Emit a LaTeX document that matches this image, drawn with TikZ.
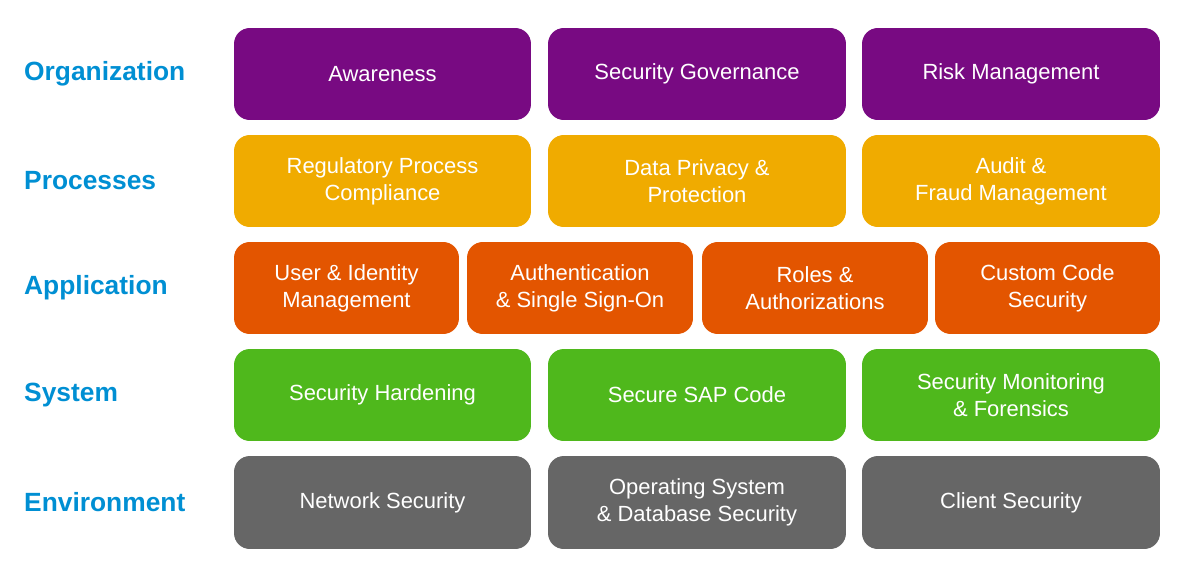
\documentclass[tikz,border=0pt]{standalone}
\usepackage{fontspec}
\setmainfont{Liberation Sans}
\usetikzlibrary{positioning}
\definecolor{orgc}{HTML}{780A82}
\definecolor{proc}{HTML}{F0AB00}
\definecolor{appc}{HTML}{E35500}
\definecolor{sysc}{HTML}{4FB81C}
\definecolor{envc}{HTML}{666666}
\definecolor{labc}{HTML}{008FD3}
\begin{document}
\begin{tikzpicture}[
  x=0.02cm, y=-0.02cm,
  layer/.style={font=\fontsize{15}{17}\selectfont\bfseries, text=labc, anchor=west},
  tile/.style={rounded corners=9pt, text=white, align=center,
    font=\fontsize{12.5}{15.5}\selectfont, minimum height=1.84cm, inner sep=0pt}
]
  \useasboundingbox (0,0) rectangle (1200,578);

  \node[layer] (org) at (18,74) {Organization};
  \node[layer] (pro) at (18,181) {Processes};
  \node[layer] (app) at (18,288) {Application};
  \node[layer] (sys) at (18,395) {System};
  \node[layer] (env) at (18,502) {Environment};

  % three-column rows
  \node[tile, fill=orgc, minimum width=5.94cm] (aware) at (382.5,74) {Awareness};
  \node[tile, fill=orgc, minimum width=5.96cm] (gov) at (697,74) {Security Governance};
  \node[tile, fill=orgc, minimum width=5.96cm] (risk) at (1011,74) {Risk Management};

  \node[tile, fill=proc, minimum width=5.94cm] (reg) at (382.5,181) {Regulatory Process\\Compliance};
  \node[tile, fill=proc, minimum width=5.96cm] (priv) at (697,181) {Data Privacy \&\\Protection};
  \node[tile, fill=proc, minimum width=5.96cm] (audit) at (1011,181) {Audit \&\\Fraud Management};

  % four-column row
  \node[tile, fill=appc, minimum width=4.5cm] (user) at (346.5,288) {User \& Identity\\Management};
  \node[tile, fill=appc, minimum width=4.52cm] (auth) at (580,288) {Authentication\\\& Single Sign-On};
  \node[tile, fill=appc, minimum width=4.52cm] (roles) at (815,288) {Roles \&\\Authorizations};
  \node[tile, fill=appc, minimum width=4.5cm] (code) at (1047.5,288) {Custom Code\\Security};

  \node[tile, fill=sysc, minimum width=5.94cm] (hard) at (382.5,395) {Security Hardening};
  \node[tile, fill=sysc, minimum width=5.96cm] (sap) at (697,395) {Secure SAP Code};
  \node[tile, fill=sysc, minimum width=5.96cm] (mon) at (1011,395) {Security Monitoring\\\& Forensics};

  \node[tile, fill=envc, minimum width=5.94cm, minimum height=1.86cm] (net) at (382.5,502.5) {Network Security};
  \node[tile, fill=envc, minimum width=5.96cm, minimum height=1.86cm] (os) at (697,502.5) {Operating System\\\& Database Security};
  \node[tile, fill=envc, minimum width=5.96cm, minimum height=1.86cm] (client) at (1011,502.5) {Client Security};
\end{tikzpicture}
\end{document}
